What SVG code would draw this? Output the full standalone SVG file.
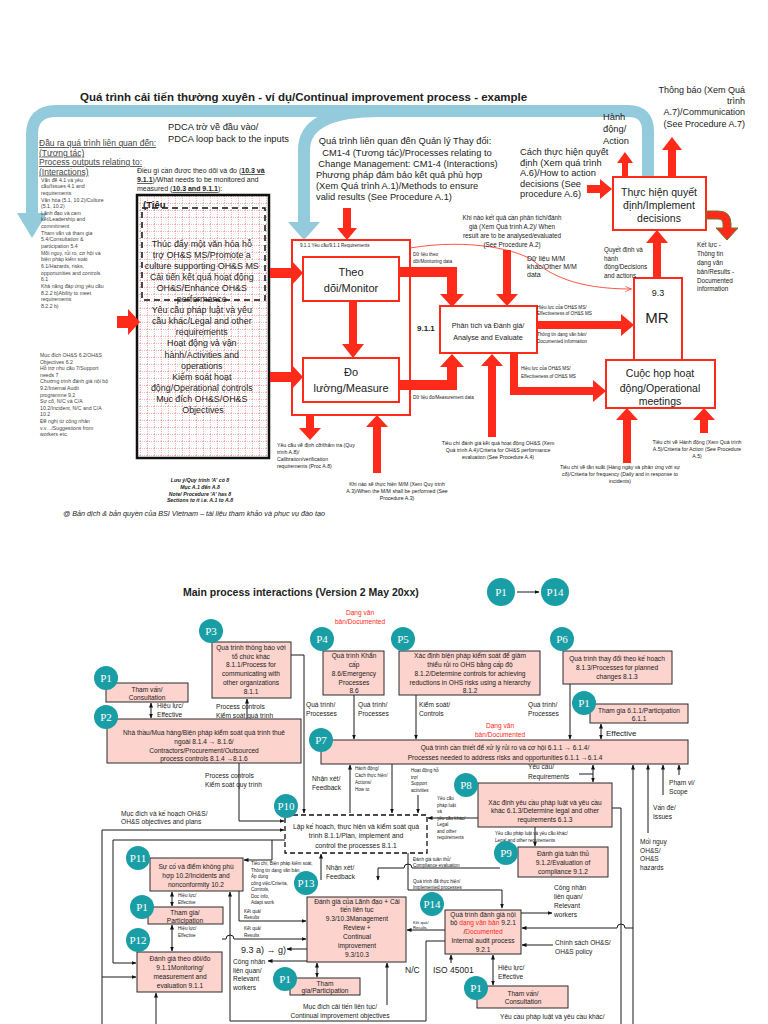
<svg xmlns="http://www.w3.org/2000/svg" width="768" height="1024" viewBox="0 0 768 1024">
<defs>
<style>
text{font-family:"Liberation Sans",Arial,sans-serif;fill:#222}
.s4{font-size:4.6px}
.s5{font-size:5.2px}
.s6{font-size:6.3px}
.s65{font-size:6.6px}
.s7{font-size:7px}
.s9{font-size:9.3px}
.m{text-anchor:middle}
.e{text-anchor:end}
.g{fill:#444}
.rt{fill:#ff2a1a}
.rf{fill:#ff2a1a}
.rbox{fill:#fff;stroke:#ff2a1a;stroke-width:2}
.pbox{fill:#fcd3cd;stroke:#2a2a2a;stroke-width:1}
.circ{fill:#1a9ea6}
.ct{font-family:"Liberation Serif",serif;fill:#fff;font-size:11px;text-anchor:middle}
.ln{fill:none;stroke:#1a1a1a;stroke-width:1}
.band{fill:none;stroke:#93cbdc;stroke-width:12}
.u{text-decoration:underline}
</style>
<marker id="ah" viewBox="0 0 10 10" refX="9" refY="5" markerWidth="5" markerHeight="5" orient="auto-start-reverse"><path d="M0,1 L10,5 L0,9 z" fill="#111"/></marker>
<marker id="oh" viewBox="0 0 10 10" refX="9" refY="5" markerWidth="8" markerHeight="8" orient="auto"><path d="M0,1 L10,5 L0,9" fill="none" stroke="#ff2a1a" stroke-width="1"/></marker>
<pattern id="grid" width="7" height="7" patternUnits="userSpaceOnUse"><path d="M0,0.5 H7 M0.5,0 V7" stroke="#f19a9a" stroke-width="0.7" stroke-dasharray="1 1" fill="none"/></pattern>
</defs>
<rect width="768" height="1024" fill="#fff"/>

<!-- ================= TOP SECTION ================= -->
<text x="80" y="101" font-size="11.5" font-weight="bold" fill="#111">Quá trình cải tiến thường xuyên - ví dụ/Continual improvement process - example</text>

<g id="blue-band">
<path class="band" d="M32,214 L32,135 Q32,111 56,111 L628,111 Q648,111 648,131 L648,177"/>
<polygon points="17,213 47,213 32,238" fill="#93cbdc"/>
<path class="band" d="M380,111 Q304,111 304,150 L304,222"/>
<polygon points="288,222 320,222 304,240" fill="#93cbdc"/>
</g>

<text x="168" y="130" class="s9">PDCA trờ về đầu vào/</text>
<text x="168" y="142" class="s9">PDCA loop back to the inputs</text>

<g id="outputs-text">
<text font-size="8.5" class="g u"><tspan x="39" y="146">Đầu ra quá trình liên quan đến:</tspan><tspan x="39" y="155.5">(Tương tác)</tspan><tspan x="39" y="165">Process outputs relating to:</tspan><tspan x="39" y="174.5">(Interactions)</tspan></text>
<text class="s5 g">
<tspan x="41" y="181.5">Vấn đề 4.1 và yêu</tspan>
<tspan x="41" y="188.2">cầu/Issues 4.1 and</tspan>
<tspan x="41" y="194.8">requirements</tspan>
<tspan x="41" y="201.5">Văn hóa (5.1, 10.2)/Culture</tspan>
<tspan x="41" y="208.1">(5.1, 10.2)</tspan>
<tspan x="41" y="214.8">Lãnh đạo và cam</tspan>
<tspan x="41" y="221.4">kết/Leadership and</tspan>
<tspan x="41" y="228.1">commitment</tspan>
<tspan x="41" y="234.7">Tham vấn và tham gia</tspan>
<tspan x="41" y="241.4">5.4/Consultation &amp;</tspan>
<tspan x="41" y="248">participation 5.4</tspan>
<tspan x="41" y="254.7">Mối nguy, rủi ro, cơ hội và</tspan>
<tspan x="41" y="261.3">biện pháp kiểm soát</tspan>
<tspan x="41" y="268">6.1/Hazards, risks,</tspan>
<tspan x="41" y="274.6">opportunities and controls</tspan>
<tspan x="41" y="281.3">6.1</tspan>
<tspan x="41" y="287.9">Khả năng đáp ứng yêu cầu</tspan>
<tspan x="41" y="294.6">8.2.2 b)Ability to meet</tspan>
<tspan x="41" y="301.2">requirements</tspan>
<tspan x="41" y="307.9">8.2.2 b)</tspan>
</text>
<text class="s5 g">
<tspan x="40" y="357">Mục đích OH&amp;S 6.2/OH&amp;S</tspan>
<tspan x="40" y="363.6">Objectives 6.2</tspan>
<tspan x="40" y="370.2">Hỗ trợ nhu cầu 7/Support</tspan>
<tspan x="40" y="376.8">needs 7</tspan>
<tspan x="40" y="383.4">Chương trình đánh giá nội bộ</tspan>
<tspan x="40" y="390">9.2/Internal Audit</tspan>
<tspan x="40" y="396.6">programme 9.2</tspan>
<tspan x="40" y="403.2">Sự cố, N/C và C/A</tspan>
<tspan x="40" y="409.8">10.2/Incident, N/C and C/A</tspan>
<tspan x="40" y="416.4">10.2</tspan>
<tspan x="40" y="423">Đề nghị từ công nhân</tspan>
<tspan x="40" y="429.6">v.v…/Suggestions from</tspan>
<tspan x="40" y="436.2">workers etc.</tspan>
</text>
</g>

<text class="s7" fill="#333"><tspan x="137" y="173">Điều gì cần được theo dõi và đo (</tspan><tspan font-weight="bold" class="u">10.3 và</tspan><tspan x="137" y="182" font-weight="bold" class="u">9.1.1</tspan><tspan>)/What needs to be monitored and</tspan><tspan x="137" y="191">measured (</tspan><tspan font-weight="bold" class="u">10.3 and 9.1.1</tspan><tspan>):</tspan></text>

<g id="node-what-to-monitor">
<rect x="137" y="195" width="132" height="263" fill="#fff"/>
<rect x="137" y="195" width="132" height="263" fill="url(#grid)" stroke="#111" stroke-width="2.5"/>
<rect x="142" y="208" width="123" height="92" fill="none" stroke="#111" stroke-width="1.5" stroke-dasharray="6 4"/>
<text x="143" y="208" font-size="9.5" font-weight="bold" fill="#111">(Tiêu</text>
<text font-size="8.9" class="m" fill="#333">
<tspan x="203" y="246.5">Thúc đẩy một văn hóa hỗ</tspan>
<tspan x="203" y="257.6">trợ OH&amp;S MS/Promote a</tspan>
<tspan x="203" y="268.7">culture supporting OH&amp;S MS</tspan>
<tspan x="203" y="279.8">Cải tiến kết quả hoạt động</tspan>
<tspan x="203" y="290.9">OH&amp;S/Enhance OH&amp;S</tspan>
<tspan x="203" y="302">performance</tspan>
<tspan x="203" y="313.1">Yêu cầu pháp luật và yêu</tspan>
<tspan x="203" y="324.2">cầu khác/Legal and other</tspan>
<tspan x="203" y="335.3">requirements</tspan>
<tspan x="203" y="346.4">Hoạt động và vận</tspan>
<tspan x="203" y="357.5">hành/Activities and</tspan>
<tspan x="203" y="368.6">operations</tspan>
<tspan x="203" y="379.7">Kiểm soát hoạt</tspan>
<tspan x="203" y="390.8">động/Operational controls</tspan>
<tspan x="203" y="401.9">Mục đích OH&amp;S/OH&amp;S</tspan>
<tspan x="203" y="413">Objectives</tspan>
</text>
</g>

<g id="node-requirements-container">
<rect class="rbox" x="292" y="240" width="118" height="175" fill="none"/>
<text x="300" y="247" class="s4">9.1.1 Yêu cầu/9.1.1 Requirements</text>
</g>
<g id="node-monitor">
<rect class="rbox" x="303" y="257" width="96" height="44"/>
<text font-size="11" class="m"><tspan x="351" y="276">Theo</tspan><tspan x="351" y="292">dõi/Monitor</tspan></text>
</g>
<g id="node-measure">
<rect class="rbox" x="303" y="358" width="96" height="44"/>
<text font-size="11" class="m"><tspan x="351" y="376">Đo</tspan><tspan x="351" y="392">lường/Measure</tspan></text>
</g>
<g id="node-analyse">
<rect class="rbox" x="440" y="306" width="97" height="47"/>
<text font-size="7.2" class="m"><tspan x="488" y="328">Phân tích và Đánh giá/</tspan><tspan x="488" y="340">Analyse and Evaluate</tspan></text>
</g>
<text x="417" y="331" font-size="8" font-weight="bold">9.1.1</text>
<g id="node-implement">
<rect class="rbox" x="613" y="177" width="93" height="53"/>
<text font-size="10.5" class="m"><tspan x="659" y="196">Thực hiện quyết</tspan><tspan x="659" y="209">định/Implement</tspan><tspan x="659" y="222">decisions</tspan></text>
</g>
<g id="node-mr">
<rect class="rbox" x="634" y="278" width="48" height="82"/>
<text x="658" y="296" font-size="9" class="m">9.3</text>
<text x="657" y="323" font-size="15" class="m">MR</text>
</g>
<g id="node-meetings">
<rect class="rbox" x="606" y="360" width="109" height="48"/>
<text font-size="10.5" class="m"><tspan x="660" y="377">Cuộc họp hoạt</tspan><tspan x="660" y="392">động/Operational</tspan><tspan x="660" y="405">meetings</tspan></text>
</g>

<g id="top-connectors">
<polygon class="rf" points="343,208 351,208 351,228 357,228 347,240 337,228 343,228"/>
<polygon class="rf" points="270,268 291,268 291,260 303,273 291,286 291,278 270,278"/>
<polygon class="rf" points="270,372 291,372 291,364 303,377 291,390 291,382 270,382"/>
<polygon class="rf" points="349,301 357,301 357,344 364,344 353,358 342,344 349,344"/>
<polygon class="rf" points="399,267 457,267 457,294 464,294 452,307 440,294 447,294 447,277 399,277"/>
<polygon class="rf" points="399,380 447,380 447,367 440,367 452,354 464,367 457,367 457,390 399,390"/>
<polygon class="rf" points="503,250 511,250 511,294 518,294 507,306 496,294 503,294"/>
<polygon class="rf" points="488,437 496,437 496,366 503,366 492,354 481,366 488,366"/>
<polygon class="rf" points="306,415 314,415 314,428 321,428 310,440 299,428 306,428"/>
<polygon class="rf" points="373,473 381,473 381,427 388,427 377,415 366,427 373,427"/>
<polygon class="rf" points="537,321 621,321 621,314 634,325 621,336 621,329 537,329"/>
<polygon class="rf" points="510,353 518,353 518,387 593,387 593,380 606,391 593,402 593,395 510,395"/>
<polygon class="rf" points="623,463 631,463 631,420 638,420 627,408 616,420 623,420"/>
<polygon class="rf" points="700,433 708,433 708,420 715,420 704,408 693,420 700,420"/>
<polygon class="rf" points="653,278 661,278 661,243 668,243 657,230 646,243 653,243"/>
<polygon class="rf" points="587,185 600,185 600,179 612,189 600,199 600,193 587,193"/>
<polygon class="rf" points="622,177 628,177 628,163 633,163 625,152 617,163 622,163"/>
<polygon class="rf" points="668,177 676,177 676,150 682,150 672,137 662,150 668,150"/>
<polygon class="rf" points="117,316 128,316 128,309 140,322 128,335 128,328 117,328"/>
<path d="M706,211 L718,211 Q731,211 731,224 L731,228 L738,228 L727,240 L716,228 L723,228 L723,224 Q723,219 718,219 L706,219 Z" fill="#ff2a1a" stroke="#6b7a2a" stroke-width="1"/>
<path d="M410,248 C470,238 520,250 535,262 S575,289 631,289" fill="none" stroke="#ff2a1a" stroke-width="0.8" marker-end="url(#oh)"/>
</g>

<g id="top-labels">
<text class="s4"><tspan x="413" y="256">Dữ liệu theo</tspan><tspan x="413" y="263">dõi/Monitoring data</tspan></text>
<text x="413" y="399" class="s4">Dữ liệu đo/Measurement data</text>
<text font-size="9.3"><tspan x="405" y="144.3" class="m">Quá trình liên quan đến Quản lý Thay đổi:</tspan><tspan x="407" y="155.5" class="m">CM1-4 (Tương tác)/Processes relating to</tspan><tspan x="408" y="166.5" class="m">Change Management: CM1-4 (Interactions)</tspan><tspan x="316" y="178.3">Phương pháp đảm bảo kết quả phù hợp</tspan><tspan x="316" y="189.3">(Xem Quá trình A.1)/Methods to ensure</tspan><tspan x="316" y="200.3">valid results (See Procedure A.1)</tspan></text>
<text class="s6 m"><tspan x="512" y="220">Khi nào kết quả cần phân tích/đánh</tspan><tspan x="512" y="229">giá (Xem Quá trình A.2)/ When</tspan><tspan x="512" y="238">result are to be analysed/evaluated</tspan><tspan x="512" y="247">(See Procedure A.2)</tspan></text>
<text class="s9"><tspan x="520" y="155">Cách thực hiện quyết</tspan><tspan x="520" y="165.5">định (Xem quá trình</tspan><tspan x="520" y="176">A.6)/How to action</tspan><tspan x="520" y="186.5">decisions (See</tspan><tspan x="520" y="197">procedure A.6)</tspan></text>
<text class="s9"><tspan x="603" y="120">Hành</tspan><tspan x="603" y="132">động/</tspan><tspan x="603" y="144">Action</tspan></text>
<text font-size="9" class="e"><tspan x="745" y="93">Thông báo (Xem Quá</tspan><tspan x="745" y="104">trình</tspan><tspan x="745" y="115">A.7)/Communication</tspan><tspan x="745" y="126.5">(See Procedure A.7)</tspan></text>
<text class="s6"><tspan x="697" y="247">Kết lực -</tspan><tspan x="697" y="256">Thông tin</tspan><tspan x="697" y="265">dạng văn</tspan><tspan x="697" y="274">bản/Results -</tspan><tspan x="697" y="282.5">Documented</tspan><tspan x="697" y="291">information</tspan></text>
<text class="s6"><tspan x="604" y="252">Quyết định và</tspan><tspan x="604" y="260.5">hành</tspan><tspan x="604" y="269">động/Decisions</tspan><tspan x="604" y="277.5">and actions</tspan></text>
<text class="s7"><tspan x="527" y="261">Dữ liệu M/M</tspan><tspan x="527" y="269">khác/Other M/M</tspan><tspan x="527" y="277">data</tspan></text>
<text class="s4"><tspan x="537" y="309">Hiệu lực của OH&amp;S MS/</tspan><tspan x="537" y="315">Effectiveness of OH&amp;S MS</tspan><tspan x="537" y="336">Thông tin dạng văn bản/</tspan><tspan x="537" y="343">Documented information</tspan></text>
<text class="s4"><tspan x="521" y="370">Hiệu lực của OH&amp;S MS/</tspan><tspan x="521" y="378">Effectiveness of OH&amp;S MS</tspan></text>
<text class="s5"><tspan x="277" y="447">Yêu cầu về định cỡ/thẩm tra (Quy</tspan><tspan x="277" y="454">trình A.8)/</tspan><tspan x="277" y="461">Calibration/verification</tspan><tspan x="277" y="468">requirements (Proc A.8)</tspan></text>
<text class="s5 m"><tspan x="397" y="486">Khi nào sẽ thực hiện M/M (Xem Quy trình</tspan><tspan x="397" y="493">A.3)/When the M/M shall be performed (See</tspan><tspan x="397" y="500">Procedure A.3)</tspan></text>
<text class="s5 m"><tspan x="498" y="445">Tiêu chí đánh giá kết quả hoạt động OH&amp;S (Xem</tspan><tspan x="498" y="452">Quá trình A.4)/Criteria for OH&amp;S performance</tspan><tspan x="498" y="459">evaluation (See Procedure A.4)</tspan></text>
<text class="s5 m"><tspan x="620" y="469">Tiêu chí về tần suất (Hàng ngày và phản ứng với sự</tspan><tspan x="620" y="476">cố)/Criteria for frequency (Daily and in response to</tspan><tspan x="620" y="483">incidents)</tspan></text>
<text class="s5 m"><tspan x="697" y="444">Tiêu chí về Hành động (Xem Quá trình</tspan><tspan x="697" y="451">A.5)/Criteria for Action (See Procedure</tspan><tspan x="697" y="458">A.5)</tspan></text>
<text class="s5 m" font-weight="bold" font-style="italic"><tspan x="200" y="482">Lưu ý/Quy trình 'A' có 8</tspan><tspan x="200" y="489">Mục A.1 đến A.8</tspan><tspan x="200" y="495.5">Note/ Procedure 'A' has 8</tspan><tspan x="200" y="502">Sections to it i.e. A.1 to A.8</tspan></text>
<text x="63" y="516" font-size="7.2" font-style="italic" fill="#555">@ Bản dịch &amp; bản quyền của BSI Vietnam – tài liệu tham khảo và phục vụ đào tạo</text>
</g>

<!-- ================= BOTTOM SECTION ================= -->
<text x="183" y="596" font-size="10.5" font-weight="bold" fill="#111">Main process interactions (Version 2 May 20xx)</text>

<g id="connectors">
<path class="ln" d="M517,592 L539,592" marker-end="url(#ah)"/>
<path class="ln" d="M151,703 L151,718" marker-start="url(#ah)" marker-end="url(#ah)"/>
<path class="ln" d="M247,719 L247,699" marker-end="url(#ah)"/>
<path class="ln" d="M291,655 L304,655 L304,813" marker-end="url(#ah)"/>
<path class="ln" d="M354,695 L354,739" marker-end="url(#ah)"/>
<path class="ln" d="M416,695 L416,739" marker-end="url(#ah)"/>
<path class="ln" d="M570,684 L570,739" marker-end="url(#ah)"/>
<path class="ln" d="M601,724 L601,739" marker-start="url(#ah)" marker-end="url(#ah)"/>
<path class="ln" d="M239,763 L239,821 L284,821" marker-end="url(#ah)"/>
<path class="ln" d="M350,813 L350,765" marker-end="url(#ah)"/>
<path class="ln" d="M392,764 L392,813" marker-end="url(#ah)"/>
<path class="ln" d="M418,795 L418,813" marker-end="url(#ah)"/>
<path class="ln" d="M579,774 L593,774"/>
<path class="ln" d="M593,765 L593,782" marker-start="url(#ah)" marker-end="url(#ah)"/>
<path class="ln" d="M478,818 L428,818" marker-end="url(#ah)"/>
<path class="ln" d="M535,827 L535,846" marker-end="url(#ah)"/>
<path class="ln" d="M612,808 L621,808 L621,1024"/>
<path class="ln" d="M633,1024 L633,765" marker-end="url(#ah)"/>
<path class="ln" d="M648,833 L648,765" marker-end="url(#ah)"/>
<path class="ln" d="M663,795 L663,765" marker-end="url(#ah)"/>
<path class="ln" d="M679,775 L679,765" marker-end="url(#ah)"/>
<path class="ln" d="M500,868 L412,868 A4,4 0 0 0 404,868 L378,868 L378,880" marker-end="url(#ah)"/>
<path class="ln" d="M408,853 L408,890 L502,890 L502,908" marker-end="url(#ah)"/>
<path class="ln" d="M521,913 L552,913" marker-end="url(#ah)"/>
<path class="ln" d="M553,945 L522,945" marker-end="url(#ah)"/>
<path class="ln" d="M445,930 L407,930" marker-end="url(#ah)"/>
<path class="ln" d="M633,928 L625,928 A4,4 0 0 0 617,928 L522,928" marker-end="url(#ah)"/>
<path class="ln" d="M445,941 L426,941 L426,1021 L230,1021 L230,892" marker-end="url(#ah)"/>
<path class="ln" d="M451,963 L451,955" marker-end="url(#ah)"/>
<path class="ln" d="M387,1005 L387,963" marker-end="url(#ah)"/>
<path class="ln" d="M493,955 L493,985" marker-start="url(#ah)" marker-end="url(#ah)"/>
<path class="ln" d="M102,1024 L102,830 L284,830" marker-end="url(#ah)"/>
<path class="ln" d="M102,977 L136,977" marker-end="url(#ah)"/>
<path class="ln" d="M285,840 L113,840 L113,963 L136,963" marker-end="url(#ah)"/>
<path class="ln" d="M272,840 L272,860 L244,860" marker-end="url(#ah)"/>
<path class="ln" d="M321,880 L321,854" marker-end="url(#ah)"/>
<path class="ln" d="M239,891 L239,921 L306,921" marker-end="url(#ah)"/>
<path class="ln" d="M222,939 L226,939 A4,4 0 0 1 234,939 L306,939" marker-end="url(#ah)"/>
<path class="ln" d="M307,949 L287,949" marker-end="url(#ah)"/>
<path class="ln" d="M307,961 L268,961" marker-end="url(#ah)"/>
<path class="ln" d="M317,963 L317,977" marker-start="url(#ah)" marker-end="url(#ah)"/>
<path class="ln" d="M172,892 L172,906" marker-start="url(#ah)" marker-end="url(#ah)"/>
<path class="ln" d="M172,925 L172,951" marker-start="url(#ah)" marker-end="url(#ah)"/>
<path class="ln" d="M156,1024 L156,993" marker-end="url(#ah)"/>
</g>

<g id="bottom-labels" class="s65">
<text class="m rt"><tspan x="360" y="615">Dạng văn</tspan><tspan x="360" y="624">bản/Documented</tspan></text>
<text class="m rt"><tspan x="500" y="728">Dạng văn</tspan><tspan x="500" y="737">bản/Documented</tspan></text>
<text><tspan x="216" y="709">Process    controls</tspan><tspan x="216" y="718">Kiểm soát quá trình</tspan></text>
<text><tspan x="157" y="708">Hiệu lực/</tspan><tspan x="157" y="716.5">Effective</tspan></text>
<text><tspan x="306" y="707">Quá trình/</tspan><tspan x="306" y="716">Processes</tspan></text>
<text><tspan x="358" y="707">Quá trình/</tspan><tspan x="358" y="716">Processes</tspan></text>
<text><tspan x="419" y="707">Kiểm soát/</tspan><tspan x="419" y="716">Controls</tspan></text>
<text><tspan x="528" y="707">Quá trình/</tspan><tspan x="528" y="716">Processes</tspan></text>
<text x="606" y="736" font-size="8">Effective</text>
<text><tspan x="205" y="778">Process    controls</tspan><tspan x="205" y="787">Kiểm soát quy trình</tspan></text>
<text><tspan x="312" y="781">Nhận xét/</tspan><tspan x="312" y="789.5">Feedback</tspan></text>
<text class="s4"><tspan x="355" y="770">Hành động/</tspan><tspan x="355" y="777">Cách thực hiện/</tspan><tspan x="355" y="784">Actions/</tspan><tspan x="355" y="791">How to</tspan></text>
<text class="s4"><tspan x="411" y="772">Hoạt động hỗ</tspan><tspan x="411" y="778.5">trợ/</tspan><tspan x="411" y="785">Support</tspan><tspan x="411" y="791.5">activities</tspan></text>
<text><tspan x="528" y="769">Yêu cầu/</tspan><tspan x="528" y="779">Requirements</tspan></text>
<text><tspan x="669" y="785">Phạm vi/</tspan><tspan x="669" y="794">Scope</tspan></text>
<text><tspan x="653" y="810">Vấn đề/</tspan><tspan x="653" y="818.5">Issues</tspan></text>
<text><tspan x="640" y="844">Mối nguy</tspan><tspan x="640" y="852.5">OH&amp;S/</tspan><tspan x="640" y="861">OH&amp;S</tspan><tspan x="640" y="869.5">hazards</tspan></text>
<text class="s4"><tspan x="437" y="800">Yêu cầu</tspan><tspan x="437" y="806.5">pháp luật</tspan><tspan x="437" y="813">và</tspan><tspan x="437" y="819.5">yêu cầu khác/</tspan><tspan x="437" y="826">Legal</tspan><tspan x="437" y="832.5">and other</tspan><tspan x="437" y="839">requirements</tspan></text>
<text class="s4"><tspan x="495" y="835">Yêu cầu pháp luật và yêu cầu khác/</tspan><tspan x="495" y="842">Legal and  other requirements</tspan></text>
<text class="s4"><tspan x="413" y="861">Đánh giá tuân thủ/</tspan><tspan x="413" y="867">Compliance evaluation</tspan></text>
<text class="s4"><tspan x="413" y="883">Quá trình đã thực hiện/</tspan><tspan x="413" y="889">Implemented processes</tspan></text>
<text><tspan x="554" y="890">Công nhân</tspan><tspan x="554" y="899">liên quan/</tspan><tspan x="554" y="908">Relevant</tspan><tspan x="554" y="917">workers</tspan></text>
<text><tspan x="555" y="945">Chính sách OH&amp;S/</tspan><tspan x="555" y="954">OH&amp;S policy</tspan></text>
<text font-size="4.2"><tspan x="413" y="924">Kết quả/</tspan><tspan x="413" y="929">Results</tspan></text>
<text x="405" y="973" font-size="8.5">N/C</text>
<text x="433" y="973" font-size="8.5">ISO 45001</text>
<text><tspan x="498" y="970">Hiệu lực/</tspan><tspan x="498" y="979">Effective</tspan></text>
<text x="500" y="1019">Yêu cầu pháp luật và yêu cầu khác/</text>
<text><tspan x="121" y="816">Mục đích và kế hoạch OH&amp;S/</tspan><tspan x="121" y="824">OH&amp;S objectives and plans</tspan></text>
<text class="s4"><tspan x="251" y="865">Tiêu chí, Biện pháp kiểm soát,</tspan><tspan x="251" y="871.5">Thông tin dạng văn bản,</tspan><tspan x="251" y="878">Áp dụng</tspan><tspan x="251" y="884.5">công việc/Criteria,</tspan><tspan x="251" y="891">Controls,</tspan><tspan x="251" y="897.5">Doc info,</tspan><tspan x="251" y="904">Adapt work</tspan></text>
<text><tspan x="326" y="870">Nhận xét/</tspan><tspan x="326" y="879">Feedback</tspan></text>
<text class="s4"><tspan x="178" y="897">Hiệu lực/</tspan><tspan x="178" y="904">Effective</tspan></text>
<text class="s4"><tspan x="178" y="930">Hiệu lực/</tspan><tspan x="178" y="937">Effective</tspan></text>
<text class="s4"><tspan x="244" y="913">Kết quả/</tspan><tspan x="244" y="919">Results</tspan></text>
<text class="s4"><tspan x="244" y="930">Kết quả/</tspan><tspan x="244" y="936.5">Results</tspan></text>
<text x="241" y="952.5" font-size="9">9.3 a) → g)</text>
<text><tspan x="233" y="964">Công nhân</tspan><tspan x="233" y="972.5">liên quan/</tspan><tspan x="233" y="981">Relevant</tspan><tspan x="233" y="989.5">workers</tspan></text>
<text class="m"><tspan x="340" y="1009">Mục đích cải tiến liên tục/</tspan><tspan x="340" y="1018">Continual improvement objectives</tspan></text>
</g>

<g id="node-P3">
<rect class="pbox" x="212" y="642" width="79" height="56"/>
<text class="s65 m"><tspan x="251" y="650">Quá trình thông báo với</tspan><tspan x="251" y="658.5">tổ chức khác</tspan><tspan x="251" y="667">8.1.1/Process for</tspan><tspan x="251" y="676">communicating with</tspan><tspan x="251" y="685">other organizations</tspan><tspan x="251" y="694">8.1.1</tspan></text>
<circle class="circ" cx="211" cy="631" r="12"/><text class="ct" x="211" y="635">P3</text>
</g>
<g id="node-P1-consult">
<rect class="pbox" x="106" y="683" width="82" height="19"/>
<text class="s65 m"><tspan x="147" y="691.5">Tham vấn/</tspan><tspan x="147" y="699.5">Consultation</tspan></text>
<circle class="circ" cx="106" cy="678" r="12"/><text class="ct" x="106" y="682">P1</text>
</g>
<g id="node-P2">
<rect class="pbox" x="107" y="719" width="194" height="44"/>
<text class="s65 m"><tspan x="204" y="735">Nhà thầu/Mua hàng/Biện pháp kiểm soát quá trình thuê</tspan><tspan x="204" y="744">ngoài 8.1.4 → 8.1.6/</tspan><tspan x="204" y="753">Contractors/Procurement/Outsourced</tspan><tspan x="204" y="761">process controls 8.1.4  →8.1.6</tspan></text>
<circle class="circ" cx="106" cy="717" r="12"/><text class="ct" x="106" y="721">P2</text>
</g>
<g id="node-P4">
<rect class="pbox" x="323" y="651" width="61" height="44"/>
<text class="s65 m"><tspan x="354" y="658">Quá trình Khẩn</tspan><tspan x="354" y="667">cấp</tspan><tspan x="354" y="676">8.6/Emergency</tspan><tspan x="354" y="684.5">Processes</tspan><tspan x="354" y="693">8.6</tspan></text>
<circle class="circ" cx="322" cy="639" r="12"/><text class="ct" x="322" y="643">P4</text>
</g>
<g id="node-P5">
<rect class="pbox" x="399" y="651" width="141" height="44"/>
<text class="s65 m"><tspan x="470" y="658">Xác định biện pháp kiểm soát để giảm</tspan><tspan x="470" y="666.5">thiểu rủi ro OHS bằng cấp độ</tspan><tspan x="470" y="676">8.1.2/Determine controls for achieving</tspan><tspan x="470" y="684.5">reductions in OHS risks using a hierarchy</tspan><tspan x="470" y="693">8.1.2</tspan></text>
<circle class="circ" cx="403" cy="639" r="12"/><text class="ct" x="403" y="643">P5</text>
</g>
<g id="node-P6">
<rect class="pbox" x="563" y="651" width="109" height="33"/>
<text class="s65 m"><tspan x="617" y="661">Quá trình thay đổi theo kế hoạch</tspan><tspan x="617" y="670">8.1.3/Processes for planned</tspan><tspan x="617" y="679">changes 8.1.3</tspan></text>
<circle class="circ" cx="562" cy="639" r="12"/><text class="ct" x="562" y="643">P6</text>
</g>
<g id="node-P1-participation-611">
<rect class="pbox" x="590" y="704" width="98" height="19"/>
<text class="s65 m"><tspan x="639" y="712.5">Tham gia 6.1.1/Participation</tspan><tspan x="639" y="721">6.1.1</tspan></text>
<circle class="circ" cx="584" cy="703" r="12"/><text class="ct" x="584" y="707">P1</text>
</g>
<g id="node-P7">
<rect class="pbox" x="321" y="740" width="367" height="24"/>
<text class="s65 m"><tspan x="505" y="749.5">Quá trình cần thiết để xử lý rủi ro và cơ hội 6.1.1 → 6.1.4/</tspan><tspan x="505" y="760">Processes needed to address risks and opportunities 6.1.1  →6.1.4</tspan></text>
<circle class="circ" cx="321" cy="740" r="12"/><text class="ct" x="321" y="744">P7</text>
</g>
<g id="node-P10">
<rect x="285" y="815" width="142" height="38" fill="#fff" stroke="#111" stroke-width="1.3" stroke-dasharray="5 3"/>
<text class="m" font-size="6.8"><tspan x="356" y="829">Lập kế hoạch, thực hiện và kiểm soát quá</tspan><tspan x="356" y="838">trình 8.1.1/Plan, implement and</tspan><tspan x="356" y="848">control the processes 8.1.1</tspan></text>
<circle class="circ" cx="286" cy="806" r="12"/><text class="ct" x="286" y="810">P10</text>
</g>
<g id="node-P8">
<rect class="pbox" x="478" y="783" width="134" height="44"/>
<text class="s65 m"><tspan x="545" y="805">Xác định yêu cầu pháp luật và yêu cầu</tspan><tspan x="545" y="813">khác 6.1.3/Determine legal and other</tspan><tspan x="545" y="821.5">requirements 6.1.3</tspan></text>
<circle class="circ" cx="466" cy="785" r="12"/><text class="ct" x="466" y="789">P8</text>
</g>
<g id="node-P9">
<rect class="pbox" x="518" y="847" width="90" height="30"/>
<text class="s65 m"><tspan x="563" y="855.5">Đánh giá tuân thủ</tspan><tspan x="563" y="864.5">9.1.2/Evaluation of</tspan><tspan x="563" y="873.5">compliance 9.1.2</tspan></text>
<circle class="circ" cx="506" cy="853" r="12"/><text class="ct" x="506" y="857">P9</text>
</g>
<g id="node-P11">
<rect class="pbox" x="150" y="858" width="93" height="33"/>
<text class="s65 m"><tspan x="196" y="869">Sự cố và điểm không phù</tspan><tspan x="196" y="878">hợp 10.2/Incidents and</tspan><tspan x="196" y="886.5">nonconformity 10.2</tspan></text>
<circle class="circ" cx="138" cy="858" r="12"/><text class="ct" x="138" y="862">P11</text>
</g>
<g id="node-P1-participation-a">
<rect class="pbox" x="148" y="907" width="75" height="17"/>
<text class="s65 m"><tspan x="185" y="914.5">Tham gia/</tspan><tspan x="185" y="922.5">Participation</tspan></text>
<circle class="circ" cx="142" cy="907" r="12"/><text class="ct" x="142" y="911">P1</text>
</g>
<g id="node-P12">
<rect class="pbox" x="137" y="952" width="85" height="40"/>
<text class="s65 m"><tspan x="180" y="961">Đánh giá theo dõi/đo</tspan><tspan x="180" y="970">9.1.1Monitoring/</tspan><tspan x="180" y="979">measurement and</tspan><tspan x="180" y="988">evaluation 9.1.1</tspan></text>
<circle class="circ" cx="138" cy="940" r="12"/><text class="ct" x="138" y="944">P12</text>
</g>
<g id="node-P13">
<rect class="pbox" x="307" y="897" width="99" height="65"/>
<text class="s65 m"><tspan x="357" y="903.5">Đánh giá của Lãnh đạo + Cải</tspan><tspan x="357" y="911.5">tiến liên tục</tspan><tspan x="357" y="920.5">9.3/10.3Management</tspan><tspan x="357" y="929.5">Review +</tspan><tspan x="357" y="938.5">Continual</tspan><tspan x="357" y="947.5">improvement</tspan><tspan x="357" y="956.5">9.3/10.3</tspan></text>
<circle class="circ" cx="306" cy="883" r="12"/><text class="ct" x="306" y="887">P13</text>
</g>
<g id="node-P1-participation-b">
<rect class="pbox" x="290" y="978" width="70" height="17"/>
<text class="s65 m"><tspan x="325" y="985.5">Tham</tspan><tspan x="325" y="993">gia/Participation</tspan></text>
<circle class="circ" cx="285" cy="979" r="12"/><text class="ct" x="285" y="983">P1</text>
</g>
<g id="node-P14">
<rect class="pbox" x="445" y="910" width="76" height="44"/>
<text class="s65 m"><tspan x="483" y="916.5">Quá trình đánh giá nội</tspan><tspan x="483" y="925">bộ <tspan class="rt">dạng văn bản</tspan> 9.2.1</tspan><tspan x="483" y="934"><tspan>/</tspan><tspan class="rt">Documented</tspan></tspan><tspan x="483" y="943">Internal audit process</tspan><tspan x="483" y="951.5">9.2.1</tspan></text>
<circle class="circ" cx="432" cy="904" r="12"/><text class="ct" x="432" y="908">P14</text>
</g>
<g id="node-P1-consult-b">
<rect class="pbox" x="477" y="986" width="91" height="22"/>
<text class="s65 m"><tspan x="523" y="995.5">Tham vấn/</tspan><tspan x="523" y="1004">Consultation</tspan></text>
<circle class="circ" cx="476" cy="988" r="12"/><text class="ct" x="476" y="992">P1</text>
</g>
<g id="node-legend">
<circle class="circ" cx="501" cy="592" r="14"/><text class="ct" x="501" y="596">P1</text>
<circle class="circ" cx="555" cy="592" r="14"/><text class="ct" x="555" y="596">P14</text>
</g>
</svg>
